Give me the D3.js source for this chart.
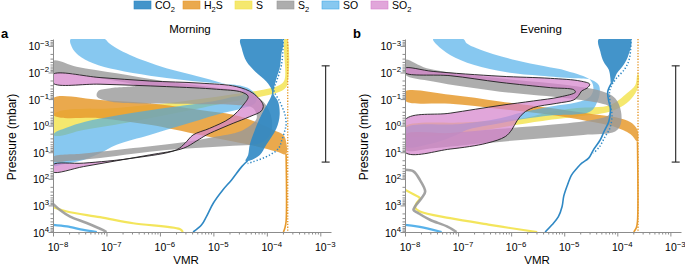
<!DOCTYPE html>
<html>
<head>
<meta charset="utf-8">
<script src="https://cdn.jsdelivr.net/npm/d3@7"></script>
<style>
  body { margin: 0; background: #fff; }
  svg { display: block; font-family: 'Liberation Sans', Arial, sans-serif; }
</style>
</head>
<body>
<svg id="chart" width="685" height="267"></svg>
<script>
// all points are [log10 VMR, log10 pressure (mbar)]
const species = ['CO2', 'H2S', 'S', 'S2', 'SO', 'SO2'];
const legendLabels = ['CO_2', 'H_2S', 'S', 'S_2', 'SO', 'SO_2'];
const xTickExps = [-8, -7, -6, -5, -4, -3];
const yTickExps = [-3, -2, -1, 0, 1, 2, 3, 4];
const pressureRange = [-2.25, 1.37];
const h2sModel = [[-3.61, -3.26], [-3.61, 4.0]];

// ---- morning (a)
const morningSO = [[-7.67,-3.26],[-7.65,-2.97],[-7.53,-2.66],[-7.25,-2.35],[-6.81,-2.10],[-6.19,-1.88],[-5.56,-1.72],[-4.94,-1.60],[-4.50,-1.51],[-4.32,-1.38],[-4.19,-1.10],[-4.22,-0.84],[-4.44,-0.66],[-4.94,-0.41],[-5.56,-0.03],[-6.19,0.35],[-6.81,0.72],[-7.12,1.04],[-7.43,1.29],[-7.81,1.45],[-8.00,1.50],
  [-8.00,0.35],[-7.75,0.08],[-7.40,-0.15],[-6.81,-0.38],[-6.19,-0.58],[-5.56,-0.76],[-5.00,-0.92],[-4.69,-1.06],[-4.44,-1.18],[-4.47,-1.35],[-4.94,-1.66],[-5.44,-1.93],[-5.88,-2.16],[-6.25,-2.41],[-6.56,-2.66],[-6.81,-2.91],[-6.97,-3.14],[-7.03,-3.26]];
const morningS2 = [[-8.00,-2.44],[-7.56,-2.22],[-6.81,-1.97],[-5.88,-1.66],[-4.94,-1.43],[-4.38,-1.26],[-4.07,-0.91],[-3.91,-0.28],[-3.94,0.35],[-4.13,0.66],[-4.63,0.76],[-5.25,0.83],[-5.88,0.92],[-6.50,1.06],[-7.12,1.22],[-7.68,1.32],[-8.00,1.35],
  [-8.00,1.18],[-7.43,1.05],[-6.50,0.84],[-5.56,0.62],[-4.94,0.41],[-4.44,0.16],[-4.19,-0.28],[-4.26,-0.66],[-4.57,-0.78],[-5.25,-0.81],[-6.19,-0.83],[-6.93,-0.91],[-7.18,-1.10],[-7.15,-1.31],[-6.93,-1.41],[-6.44,-1.51],[-7.12,-1.78],[-7.68,-1.97],[-8.00,-2.01]];
const morningSO2 = [[-8.00,-1.93],[-7.12,-1.81],[-6.19,-1.68],[-5.25,-1.60],[-4.57,-1.47],[-4.26,-1.22],[-4.07,-0.78],[-4.10,-0.56],[-4.32,-0.34],[-4.63,-0.09],[-4.82,0.07],[-5.13,0.35],[-5.31,0.57],[-5.56,0.85],[-6.19,1.10],[-6.81,1.32],[-7.43,1.54],[-8.00,1.74],
  [-8.00,1.47],[-7.43,1.41],[-6.50,1.22],[-5.69,0.91],[-5.53,0.66],[-5.38,0.35],[-5.07,0.10],[-4.69,-0.28],[-4.44,-0.78],[-4.35,-1.10],[-4.47,-1.26],[-4.94,-1.37],[-5.88,-1.47],[-7.12,-1.56],[-8.00,-1.60]];
const morningH2S = [[-8.00,-1.03],[-7.12,-0.97],[-6.19,-0.84],[-5.25,-0.59],[-4.63,-0.41],[-4.19,-0.13],[-3.88,0.16],[-3.69,0.35],[-3.64,0.60],[-3.64,1.07],[-3.82,0.97],[-4.19,0.78],[-4.63,0.60],[-5.25,0.35],[-6.19,-0.03],[-7.12,-0.28],[-8.00,-0.41]];
const morningH2SLine = [[-3.64,1.07],[-3.64,3.60],[-3.66,3.83],[-3.69,4.00]];
const morningS = [[-3.67,-3.26],[-3.67,-1.72],[-3.76,-1.53],[-4.07,-1.35],[-4.63,-1.18],[-5.25,-1.00],[-5.88,-0.84],[-6.81,-0.66],[-8.00,-0.41],
  [-8.00,0.35],[-7.43,0.16],[-6.50,-0.16],[-5.56,-0.53],[-4.63,-0.91],[-4.01,-1.13],[-3.69,-1.35],[-3.62,-1.53],[-3.62,-3.26]];
const morningCO2 = [[-4.49,-3.26],[-4.47,-2.91],[-4.38,-2.41],[-4.22,-2.04],[-4.01,-1.66],[-3.91,-1.35],[-3.91,-1.16],[-4.07,-0.53],[-4.16,-0.16],[-4.26,0.35],[-4.32,0.72],[-4.35,1.10],[-4.40,1.32],
  [-4.33,1.32],[-4.13,1.10],[-4.01,0.72],[-3.82,0.10],[-3.76,-0.41],[-3.79,-0.91],[-3.87,-1.16],[-3.87,-1.35],[-3.82,-1.78],[-3.76,-2.16],[-3.73,-2.66],[-3.71,-3.26]];
const morningCO2Line = [[-4.36,1.32],[-4.47,1.54],[-4.66,2.04],[-4.82,2.41],[-5.00,2.91],[-5.13,3.42],[-5.22,3.73],[-5.38,4.00]];
const morningCO2Model = [[-3.69,-3.26],[-3.71,-2.54],[-3.74,-2.16],[-3.82,-1.66],[-3.87,-1.35],[-3.76,-0.91],[-3.66,-0.41],[-3.64,-0.03],[-3.66,0.16],[-3.72,0.55],[-3.78,0.85],[-3.94,1.10],[-4.26,1.36],[-4.36,1.42]];
const morningSDeep = [[-8.00,3.06],[-7.74,3.23],[-7.12,3.44],[-6.50,3.67],[-5.63,3.89],[-5.57,4.00]];
const morningS2Deep = [[-8.00,2.94],[-7.87,3.17],[-7.68,3.42],[-7.37,3.66],[-7.07,3.92],[-7.00,4.00]];
const morningSODeep = [[-8.00,3.73],[-7.74,3.79],[-7.43,3.92],[-7.18,4.00]];

// ---- evening (b)
const eveningSO = [[-7.47,-3.26],[-7.40,-3.04],[-7.15,-2.66],[-6.71,-2.29],[-6.08,-2.01],[-5.45,-1.88],[-4.82,-1.78],[-4.48,-1.72],[-4.35,-1.53],[-4.33,-1.26],[-4.37,-0.93],[-4.51,-0.53],[-5.26,-0.38],[-5.77,-0.25],[-6.21,-0.09],[-6.84,0.16],[-7.03,0.35],[-7.47,0.66],[-8.00,0.78],
  [-8.00,0.10],[-6.96,-0.06],[-6.21,-0.28],[-5.77,-0.51],[-5.26,-0.72],[-4.70,-0.91],[-4.51,-1.10],[-4.45,-1.41],[-4.51,-1.72],[-4.95,-2.06],[-5.39,-2.24],[-5.89,-2.45],[-6.33,-2.69],[-6.65,-2.91],[-6.84,-3.10],[-6.90,-3.26]];
const eveningS2 = [[-8.00,-2.47],[-7.59,-2.16],[-6.21,-1.78],[-4.95,-1.53],[-4.32,-1.31],[-4.04,-1.03],[-3.93,-0.53],[-3.94,-0.03],[-4.04,0.22],[-4.64,0.35],[-5.58,0.50],[-6.52,0.66],[-7.47,0.85],[-8.00,0.91],
  [-8.00,0.35],[-7.15,0.28],[-6.21,0.12],[-5.26,-0.03],[-4.45,-0.22],[-4.16,-0.41],[-4.16,-0.72],[-4.32,-0.84],[-4.95,-1.03],[-6.21,-1.28],[-7.47,-1.66],[-8.00,-1.93]];
const eveningSO2 = [[-8.00,-2.16],[-7.47,-2.04],[-6.21,-1.86],[-5.26,-1.78],[-4.70,-1.68],[-4.52,-1.56],[-4.57,-1.41],[-4.67,-1.31],[-4.73,-1.13],[-4.82,-0.97],[-5.14,-0.84],[-5.58,-0.68],[-5.77,-0.47],[-5.89,-0.18],[-5.99,0.16],[-6.11,0.41],[-6.46,0.66],[-7.15,0.88],[-8.00,1.00],
  [-8.00,-0.22],[-7.15,-0.47],[-6.21,-0.76],[-5.58,-0.93],[-5.08,-1.08],[-4.79,-1.26],[-4.82,-1.35],[-5.26,-1.43],[-6.21,-1.63],[-7.15,-1.88],[-8.00,-1.99]];
const eveningH2S = [[-8.00,-1.28],[-7.15,-1.16],[-6.21,-0.91],[-5.26,-0.66],[-4.45,-0.43],[-4.01,-0.31],[-3.75,-0.13],[-3.62,0.16],[-3.62,0.60],[-3.75,0.32],[-4.07,0.03],[-4.57,-0.18],[-5.26,-0.41],[-6.21,-0.63],[-7.15,-0.82],[-8.00,-0.94]];
const eveningH2SLine = [[-3.62,0.60],[-3.62,3.60],[-3.64,3.83],[-3.69,4.00]];
const eveningS = [[-3.62,-1.93],[-3.66,-1.53],[-3.82,-1.22],[-4.13,-0.78],[-4.76,-0.66],[-5.26,-0.51],[-5.77,-0.28],[-6.84,-0.13],[-8.00,0.03],
  [-8.00,0.35],[-6.84,0.25],[-5.89,-0.03],[-5.26,-0.22],[-4.76,-0.34],[-4.13,-0.53],[-3.82,-0.85],[-3.66,-1.22],[-3.60,-1.53],[-3.60,-1.93]];
const eveningCO2 = [[-4.35,-3.26],[-4.32,-2.79],[-4.26,-2.41],[-4.16,-2.10],[-4.13,-1.78],[-4.12,-1.60],[-4.09,-1.60],[-4.01,-1.96],[-3.88,-2.29],[-3.79,-2.66],[-3.75,-3.26]];
const eveningCO2Line = [[-4.11,-1.60],[-4.18,-1.28],[-4.16,-0.91],[-4.13,-0.66],[-4.16,-0.16],[-4.25,0.22],[-4.32,0.53],[-4.45,0.91],[-4.54,1.22],[-4.67,1.41],[-4.76,1.60],[-4.86,1.85],[-4.95,2.29],[-5.01,2.66],[-5.04,3.04],[-5.11,3.42],[-5.23,3.73],[-5.36,4.00]];
const eveningCO2Model = [[-3.74,-3.26],[-3.77,-2.54],[-3.85,-2.16],[-4.04,-1.72],[-4.14,-1.35],[-4.13,-0.78],[-4.10,-0.41],[-4.14,0.10],[-4.23,0.41],[-4.33,0.78],[-4.45,1.04]];
const eveningSDeep = [[-8.00,2.41],[-7.84,2.58],[-7.72,2.73],[-7.78,2.91],[-7.81,3.08],[-7.72,3.23],[-7.15,3.48],[-6.40,3.73],[-6.02,3.85],[-5.51,4.00]];
const eveningS2Deep = [[-8.00,1.66],[-7.84,1.72],[-7.72,2.04],[-7.62,2.48],[-7.69,2.73],[-7.81,3.04],[-7.84,3.17],[-7.75,3.29],[-7.53,3.54],[-7.21,3.79],[-7.03,4.00]];
const eveningSODeep = [[-8.00,3.73],[-7.78,3.79],[-7.47,3.92],[-7.31,4.00]];

const color = {
  CO2: '#2f88c4', H2S: '#e69a2e', S: '#f2e24a', S2: '#999999', SO: '#46aae8', SO2: '#d683cc'
};
const fillOpacity = { CO2: 0.9, H2S: 0.85, S: 0.8, S2: 0.8, SO: 0.65, SO2: 0.72 };

const svg = d3.select('#chart');
const yRange = [39, 232];
const y = d3.scaleLog().domain([10 ** -3.26, 1e4]).range(yRange);
const axisColor = '#8c8c8c';

const panels = [
  { id: 'a', title: 'Morning', x0: 53, x1: 331,
    bands: [['S', morningS], ['H2S', morningH2S], ['SO', morningSO], ['S2', morningS2], ['SO2', morningSO2], ['CO2', morningCO2]],
    deep: [['S', morningSDeep], ['S2', morningS2Deep], ['SO', morningSODeep]],
    co2Line: morningCO2Line, co2Model: morningCO2Model, h2sLine: morningH2SLine },
  { id: 'b', title: 'Evening', x0: 405, x1: 681,
    bands: [['S', eveningS], ['H2S', eveningH2S], ['SO', eveningSO], ['S2', eveningS2], ['SO2', eveningSO2], ['CO2', eveningCO2]],
    deep: [['S', eveningSDeep], ['S2', eveningS2Deep], ['SO', eveningSODeep]],
    co2Line: eveningCO2Line, co2Model: eveningCO2Model, h2sLine: eveningH2SLine }
];

// "10" with a superscript exponent
const powerLabel = (sel, e) => {
  sel.append('tspan').text('10');
  sel.append('tspan').attr('dy', -4.5).attr('font-size', 7.8).text(String(e).replace('-', '\u2212'));
};

const minorTicks = (scale) => {
  const [lo, hi] = d3.extent(scale.domain());
  const out = [];
  for (let e = -9; e <= 4; e++) for (let m = 2; m <= 9; m++) {
    const v = m * 10 ** e;
    if (v >= lo && v <= hi) out.push(v);
  }
  return out;
};

panels.forEach((p) => {
  const x = d3.scaleLog().domain([1e-8, 10 ** -2.8]).range([p.x0, p.x1]);
  const px = d => x(10 ** d[0]);
  const py = d => y(10 ** d[1]);
  const closed = d3.line().x(px).y(py).curve(d3.curveCatmullRomClosed.alpha(0.5));
  const open = d3.line().x(px).y(py).curve(d3.curveCatmullRom.alpha(0.5));

  svg.append('clipPath').attr('id', 'clip-' + p.id)
    .append('rect')
    .attr('x', p.x0).attr('y', yRange[0])
    .attr('width', p.x1 - p.x0).attr('height', yRange[1] - yRange[0]);

  const plot = svg.append('g').attr('clip-path', `url(#clip-${p.id})`);

  // profile bands
  p.bands.forEach(([sp, pts]) => {
    plot.append('path')
      .attr('d', closed(pts))
      .attr('fill', color[sp])
      .attr('fill-opacity', fillOpacity[sp])
      .attr('stroke', sp === 'SO2' ? '#1e1e1e' : 'none')
      .attr('stroke-width', 0.9);
  });

  // deep atmosphere profiles
  p.deep.forEach(([sp, pts]) => {
    plot.append('path')
      .attr('d', open(pts))
      .attr('fill', 'none')
      .attr('stroke', color[sp])
      .attr('stroke-opacity', 0.9)
      .attr('stroke-width', sp === 'S2' ? 2.6 : 2.2);
  });

  plot.append('path').attr('d', open(p.h2sLine))
    .attr('fill', 'none').attr('stroke', color.H2S).attr('stroke-width', 1.6);
  plot.append('path').attr('d', open(h2sModel))
    .attr('fill', 'none').attr('stroke', color.H2S).attr('stroke-width', 1.4)
    .attr('stroke-dasharray', '1.3 1.5');
  plot.append('path').attr('d', open(p.co2Line))
    .attr('fill', 'none').attr('stroke', color.CO2).attr('stroke-width', 1.6);
  plot.append('path').attr('d', open(p.co2Model))
    .attr('fill', 'none').attr('stroke', color.CO2).attr('stroke-width', 1.5)
    .attr('stroke-dasharray', '1.3 2');

  // x axis
  const gx = svg.append('g').attr('transform', `translate(0,${yRange[1]})`);
  gx.call(d3.axisBottom(x).tickValues(minorTicks(x)).tickSize(2.5).tickSizeOuter(0).tickFormat(''));
  const gxMajor = svg.append('g').attr('transform', `translate(0,${yRange[1]})`);
  gxMajor.call(d3.axisBottom(x).tickValues(xTickExps.map(e => 10 ** e)).tickSize(4.5).tickSizeOuter(0).tickFormat(''));
  gxMajor.select('.domain').remove();
  gxMajor.selectAll('.tick text').remove();
  gxMajor.selectAll('.tick').append('text')
    .attr('x', -5.85).attr('y', 19)
    .attr('fill', '#000').attr('font-size', 10.5).attr('text-anchor', 'start')
    .each(function (d, i) { powerLabel(d3.select(this), xTickExps[i]); });

  // y axis
  const gy = svg.append('g').attr('transform', `translate(${p.x0},0)`);
  gy.call(d3.axisLeft(y).tickValues(minorTicks(y)).tickSize(2.5).tickSizeOuter(0).tickFormat(''));
  const gyMajor = svg.append('g').attr('transform', `translate(${p.x0},0)`);
  gyMajor.call(d3.axisLeft(y).tickValues(yTickExps.map(e => 10 ** e)).tickSize(4.5).tickSizeOuter(0).tickFormat(''));
  gyMajor.select('.domain').remove();
  gyMajor.selectAll('.tick text').remove();
  gyMajor.selectAll('.tick').append('text')
    .attr('x', -4).attr('y', 4)
    .attr('fill', '#000').attr('font-size', 10.5).attr('text-anchor', 'end')
    .each(function (d, i) { powerLabel(d3.select(this), yTickExps[i]); });

  [gx, gxMajor, gy, gyMajor].forEach(a => {
    a.selectAll('.domain, .tick line').attr('stroke', axisColor);
  });

  // probed pressure range
  const bx = x(10 ** -2.9);
  const bar = svg.append('g').attr('stroke', '#222').attr('stroke-width', 1.1);
  bar.append('line').attr('x1', bx).attr('x2', bx)
    .attr('y1', y(10 ** pressureRange[0])).attr('y2', y(10 ** pressureRange[1]));
  pressureRange.forEach(v => {
    bar.append('line').attr('x1', bx - 4).attr('x2', bx + 4)
      .attr('y1', y(10 ** v)).attr('y2', y(10 ** v));
  });

  // titles
  const cx = (p.x0 + p.x1) / 2;
  svg.append('text').attr('x', p.x0 - 52).attr('y', 38)
    .attr('font-weight', 'bold').attr('font-size', 13).text(p.id);
  svg.append('text').attr('x', cx - 2).attr('y', 33)
    .attr('text-anchor', 'middle').attr('font-size', 11.5).text(p.title);
  svg.append('text').attr('x', cx - 6).attr('y', 264)
    .attr('text-anchor', 'middle').attr('font-size', 11.5).text('VMR');
  svg.append('text')
    .attr('transform', `translate(${p.x0 - 37},137) rotate(-90)`)
    .attr('text-anchor', 'middle').attr('font-size', 12).text('Pressure (mbar)');
});

// legend
const legendX = [134, 183, 235, 277, 322, 371];
const legend = svg.append('g');
species.forEach((sp, i) => {
  const g = legend.append('g').attr('transform', `translate(${legendX[i]},1)`);
  g.append('rect').attr('width', 17).attr('height', 8)
    .attr('fill', color[sp]).attr('fill-opacity', fillOpacity[sp])
    .attr('stroke', color[sp]).attr('stroke-width', 0.6);
  const t = g.append('text').attr('x', 21).attr('y', 8.3).attr('font-size', 10.5);
  let sub = false;
  legendLabels[i].split(/(_\d)/).filter(s => s).forEach(part => {
    if (part[0] === '_') {
      t.append('tspan').attr('dy', 2.5).attr('font-size', 7.5).text(part.slice(1));
      sub = true;
    } else {
      t.append('tspan').attr('dy', sub ? -2.5 : 0).text(part);
      sub = false;
    }
  });
});
</script>
</body>
</html>
